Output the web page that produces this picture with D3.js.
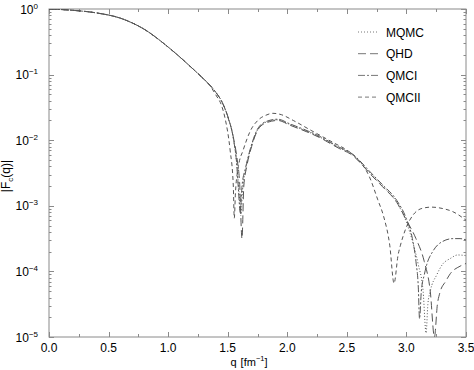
<!DOCTYPE html>
<html><head><meta charset="utf-8">
<script src="https://cdn.jsdelivr.net/npm/d3@7"></script>
<style>body{margin:0;background:#fff}svg{display:block}text{font-family:"Liberation Sans",Arial,sans-serif;fill:#000}</style>
</head><body><svg id="c" width="474" height="370"></svg>
<script>
const seriesNames = ["MQMC","QHD","QMCI","QMCII"];
const xTicks = [0,0.5,1.0,1.5,2.0,2.5,3.0,3.5];
const xTickLabels = ["0.0","0.5","1.0","1.5","2.0","2.5","3.0","3.5"];
const yTickExps = [0,-1,-2,-3,-4,-5];

const mqmcQ = [0,0.2,0.4,0.6,0.8,1.0,1.2,1.3,1.35,1.4,1.45,1.5,1.55,1.575,1.595,1.61,1.625,1.65,1.69,1.757,1.83,1.92,2.02,2.27,2.44,2.53,2.72,2.8,2.92,3.0,3.06,3.1,3.14,3.165,3.18,3.2,3.255,3.3,3.37,3.43,3.5];
const mqmcF = [1,0.955,0.871,0.724,0.490,0.263,0.126,0.0851,0.0692,0.0537,0.0389,0.0229,0.0100,0.00447,0.00158,0.000708,0.00178,0.00355,0.00708,0.0151,0.0191,0.0204,0.0174,0.0112,0.00759,0.00631,0.00282,0.00200,0.00112,0.000562,0.000251,0.000126,5.0e-5,1.15e-5,3.16e-5,5.0e-5,8.9e-5,1.26e-4,1.58e-4,1.78e-4,1.74e-4];

const qhdQ = [0,0.2,0.4,0.6,0.8,1.0,1.2,1.3,1.35,1.4,1.45,1.5,1.55,1.58,1.6,1.62,1.635,1.66,1.7,1.757,1.83,1.92,2.02,2.27,2.44,2.53,2.72,2.8,2.92,3.0,3.08,3.15,3.2,3.235,3.26,3.28,3.33,3.37,3.45,3.5];
const qhdF = [1,0.955,0.871,0.724,0.490,0.263,0.126,0.0851,0.0692,0.0537,0.0389,0.0234,0.0105,0.00501,0.00224,0.000316,0.00200,0.00398,0.00794,0.0148,0.0186,0.0200,0.0170,0.0110,0.00741,0.00617,0.00275,0.00195,0.00112,0.000603,0.000316,0.000141,5.0e-5,1.0e-5,3.16e-5,4.68e-5,7.08e-5,9.33e-5,1.2e-4,1.32e-4];

const qmciQ = [0,0.2,0.4,0.6,0.8,1.0,1.2,1.3,1.35,1.4,1.45,1.5,1.55,1.575,1.59,1.605,1.62,1.65,1.69,1.757,1.83,1.92,2.02,2.27,2.44,2.53,2.72,2.8,2.92,3.0,3.05,3.08,3.1,3.11,3.125,3.15,3.17,3.22,3.28,3.39,3.45,3.5];
const qmciF = [1,0.955,0.871,0.724,0.490,0.263,0.126,0.0851,0.0692,0.0537,0.0389,0.0229,0.0100,0.00447,0.00178,0.000794,0.00200,0.00380,0.00741,0.0155,0.0195,0.0209,0.0178,0.0115,0.00776,0.00646,0.00295,0.00209,0.00120,0.000631,0.000316,0.000141,5.6e-5,1.9e-5,5.0e-5,8.9e-5,1.26e-4,2.0e-4,2.69e-4,3.16e-4,3.16e-4,3.02e-4];

const qmciiQ = [0,0.2,0.4,0.6,0.8,1.0,1.2,1.3,1.35,1.4,1.45,1.477,1.52,1.547,1.555,1.565,1.59,1.63,1.687,1.757,1.82,1.88,1.95,2.05,2.2,2.4,2.5,2.58,2.69,2.76,2.81,2.86,2.896,2.93,2.95,2.99,3.06,3.13,3.21,3.3,3.39,3.5];
const qmciiF = [1,0.955,0.871,0.724,0.490,0.263,0.126,0.0851,0.0680,0.0490,0.0331,0.0219,0.00708,0.00200,0.000646,0.00158,0.00398,0.00708,0.0135,0.0204,0.0240,0.0257,0.0245,0.0200,0.0141,0.00891,0.00708,0.00537,0.00275,0.00123,0.000676,0.000251,6.6e-5,0.000178,0.000251,0.000427,0.000741,0.000912,0.000955,0.000912,0.000813,0.000603];

const seriesQ = [mqmcQ,qhdQ,qmciQ,qmciiQ];
const seriesF = [mqmcF,qhdF,qmciF,qmciiF];
const dashes = ["1,2","8,4","7,2,2,2","4,3"];

const L=49,R=466,T=9,B=337;
const svg = d3.select("#c");
const x = d3.scaleLinear().domain([0,3.5]).range([L,R]);
const y = d3.scaleLog().domain([1e-5,1]).range([B,T]);
const axisCol="#8a8a8a";

svg.append("rect").attr("x",L).attr("y",T).attr("width",R-L).attr("height",B-T)
  .attr("fill","none").attr("stroke",axisCol).attr("stroke-width",1);

const xMinor = d3.range(0,3.5001,0.25);
xMinor.forEach(v=>{
  const major = Math.abs(v*2-Math.round(v*2))<1e-6;
  const len = major?5:3;
  const px = Math.round(x(v))+0.5;
  svg.append("line").attr("x1",px).attr("x2",px).attr("y1",B).attr("y2",B-len).attr("stroke",axisCol);
  svg.append("line").attr("x1",px).attr("x2",px).attr("y1",T).attr("y2",T+len).attr("stroke",axisCol);
});
for(let e=-5;e<=0;e++){
  for(let m=1;m<10;m++){
    const v=m*Math.pow(10,e);
    if(v>1.0000001) break;
    const len = m===1?5:2.5;
    const py = Math.round(y(v))+0.5;
    svg.append("line").attr("x1",L).attr("x2",L+len).attr("y1",py).attr("y2",py).attr("stroke",axisCol);
    svg.append("line").attr("x1",R).attr("x2",R-len).attr("y1",py).attr("y2",py).attr("stroke",axisCol);
    if(e===0) break;
  }
}
xTicks.forEach((v,i)=>{
  svg.append("text").attr("x",x(v)).attr("y",352).attr("text-anchor","middle")
    .attr("font-size",12).text(xTickLabels[i]);
});
yTickExps.forEach(e=>{
  const t = svg.append("text").attr("x",38).attr("y",y(Math.pow(10,e))+4.5).attr("text-anchor","end").attr("font-size",12);
  t.append("tspan").text("10");
  t.append("tspan").attr("dy",-5).attr("font-size",8).text(e===0?"0":"\u2212"+(-e));
});
const xt = svg.append("text").attr("x",249).attr("y",366).attr("text-anchor","middle").attr("font-size",11);
xt.append("tspan").text("q");
xt.append("tspan").attr("dx",4).text("[fm");
xt.append("tspan").attr("dy",-5).attr("font-size",7.5).text("\u22121");
xt.append("tspan").attr("dy",5).text("]");
const yt = svg.append("text").attr("transform","translate(10,176) rotate(-90)").attr("text-anchor","middle").attr("font-size",12);
yt.append("tspan").text("|F");
yt.append("tspan").attr("dy",3).attr("font-size",8).text("c");
yt.append("tspan").attr("dy",-3).text("(q)|");

svg.append("clipPath").attr("id","cp").append("rect").attr("x",L).attr("y",T).attr("width",R-L).attr("height",B-T);
const line = d3.line().x(d=>x(d[0])).y(d=>y(d[1])).curve(d3.curveMonotoneX);
seriesNames.forEach((n,i)=>{
  const pts = seriesQ[i].map((q,j)=>[q,seriesF[i][j]]);
  svg.append("path").attr("d",line(pts)).attr("fill","none").attr("stroke","#555")
    .attr("stroke-width",1).attr("stroke-dasharray",dashes[i]).attr("clip-path","url(#cp)");
});
seriesNames.forEach((n,i)=>{
  const yy = 32 + i*21.7;
  svg.append("line").attr("x1",358).attr("x2",378).attr("y1",yy).attr("y2",yy)
    .attr("stroke","#777").attr("stroke-dasharray",dashes[i]);
  svg.append("text").attr("x",386).attr("y",yy+4.5).attr("font-size",12).text(n);
});
</script></body></html>
